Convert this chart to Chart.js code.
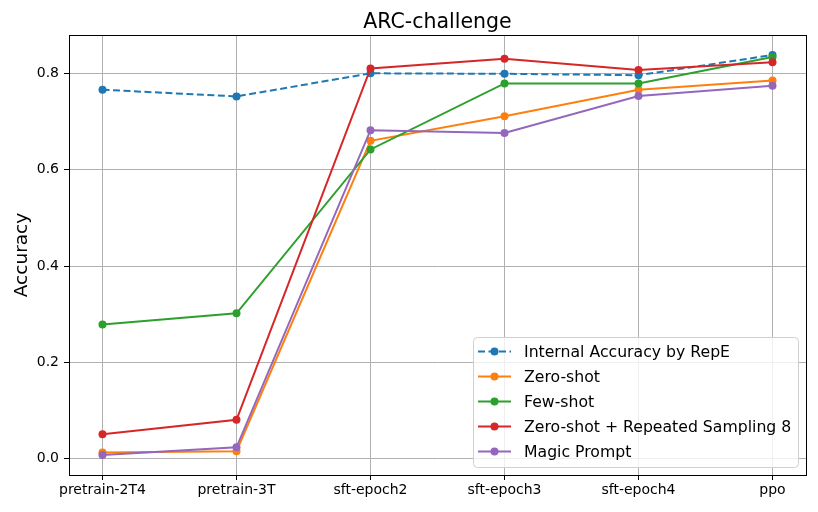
<!DOCTYPE html>
<html>
<head>
<meta charset="utf-8">
<script src="https://cdn.jsdelivr.net/npm/chart.js@4.4.1/dist/chart.umd.min.js"></script>
<style>
  html, body { margin: 0; padding: 0; background: #fff; }
  #wrap { width: 818px; height: 512px; }
</style>
</head>
<body>
<div id="wrap"><canvas id="arc"></canvas></div>
<script>
// ARC-challenge 정확도 차트
const stages = ['pretrain-2T4', 'pretrain-3T', 'sft-epoch2', 'sft-epoch3', 'sft-epoch4', 'ppo'];
const yTicks = [0.0, 0.2, 0.4, 0.6, 0.8];

const repeAcc = [0.766, 0.752, 0.800, 0.799, 0.796, 0.838];
const zeroShot = [0.013, 0.016, 0.660, 0.711, 0.766, 0.785];
const fewShot = [0.279, 0.302, 0.642, 0.779, 0.779, 0.834];
const repeated8 = [0.051, 0.081, 0.810, 0.830, 0.807, 0.823];
const magicPrompt = [0.008, 0.024, 0.682, 0.676, 0.753, 0.774];

const seriesNames = ['Internal Accuracy by RepE', 'Zero-shot', 'Few-shot', 'Zero-shot + Repeated Sampling 8', 'Magic Prompt'];
const seriesColors = ['#1f77b4', '#ff7f0e', '#2ca02c', '#d62728', '#9467bd'];
const seriesValues = [repeAcc, zeroShot, fewShot, repeated8, magicPrompt];

const FONT = "'DejaVu Sans', sans-serif";

const datasets = seriesValues.map((vals, i) => ({
    label: seriesNames[i],
    data: vals.map((v, k) => ({ x: k, y: v })),
    borderColor: seriesColors[i],
    backgroundColor: seriesColors[i],
    borderWidth: 2,
    borderDash: i === 0 ? [7, 3.5] : [],
    pointRadius: 4,
    pointBorderWidth: 0,
    pointHoverRadius: 4,
    tension: 0,
    order: 5 - i // 뒤 시리즈가 위에 그려지도록
}));

// 제목 (플롯 영역 가운데) + 축 테두리
const frameBox = {
    id: 'frameBox',
    afterDatasetsDraw(chart) {
        const a = chart.chartArea;
        const ctx = chart.ctx;
        ctx.save();
        ctx.strokeStyle = '#000';
        ctx.lineWidth = 1;
        ctx.strokeRect(Math.round(a.left) + 0.5, Math.round(a.top) + 0.5,
            Math.round(a.right - a.left), Math.round(a.bottom - a.top));
        ctx.fillStyle = '#000';
        ctx.font = '20.5px ' + FONT;
        ctx.textAlign = 'center';
        ctx.textBaseline = 'alphabetic';
        ctx.fillText('ARC-challenge', (a.left + a.right) / 2, 27.5);
        ctx.restore();
    }
};

// 범례를 차트 안 오른쪽 아래에 그림
const innerLegend = {
    id: 'innerLegend',
    afterDraw(chart) {
        const ctx = chart.ctx;
        const a = chart.chartArea;
        const rowH = 25;
        const boxW = 325, boxH = 130;
        const x0 = a.right - 8 - boxW;
        const y0 = a.bottom - 8 - boxH;
        ctx.save();
        ctx.fillStyle = 'rgba(255,255,255,0.8)';
        ctx.strokeStyle = '#d0d0d0';
        ctx.lineWidth = 1;
        ctx.beginPath();
        ctx.roundRect(x0 + 0.5, y0 + 0.5, boxW, boxH, 4);
        ctx.fill();
        ctx.stroke();
        ctx.font = '15.7px ' + FONT;
        ctx.textBaseline = 'middle';
        chart.data.datasets.forEach((ds, i) => {
            const cy = y0 + 14.5 + i * rowH;
            ctx.strokeStyle = ds.borderColor;
            ctx.lineWidth = 2;
            ctx.setLineDash(ds.borderDash);
            ctx.beginPath();
            ctx.moveTo(x0 + 5, cy);
            ctx.lineTo(x0 + 38, cy);
            ctx.stroke();
            ctx.setLineDash([]);
            ctx.fillStyle = ds.backgroundColor;
            ctx.beginPath();
            ctx.arc(x0 + 21.5, cy, 4, 0, Math.PI * 2);
            ctx.fill();
            ctx.fillStyle = '#000';
            ctx.fillText(ds.label, x0 + 51, cy + 1);
        });
        ctx.restore();
    }
};

new Chart(document.getElementById('arc').getContext('2d'), {
    type: 'line',
    data: { datasets: datasets },
    options: {
        responsive: true,
        maintainAspectRatio: false,
        animation: false,
        layout: { padding: { left: 0, right: 12, top: 35, bottom: 0 } },
        plugins: {
            legend: { display: false },
            tooltip: { enabled: false },
            title: { display: false }
        },
        scales: {
            x: {
                type: 'linear',
                min: -0.25,
                max: 5.25,
                afterBuildTicks: scale => { scale.ticks = stages.map((s, i) => ({ value: i })); },
                afterFit: scale => { scale.height = 37; },
                grid: { color: '#b0b0b0', lineWidth: 1, tickLength: 5, tickColor: '#000' },
                border: { display: false },
                ticks: {
                    color: '#000',
                    padding: 2,
                    maxRotation: 0,
                    autoSkip: false,
                    font: { family: FONT, size: 14 },
                    callback: v => stages[v]
                }
            },
            y: {
                min: -0.0335,
                max: 0.8795,
                afterBuildTicks: scale => { scale.ticks = yTicks.map(v => ({ value: v })); },
                afterFit: scale => { scale.width = 69; },
                grid: { color: '#b0b0b0', lineWidth: 1, tickLength: 5, tickColor: '#000' },
                border: { display: false },
                title: {
                    display: true,
                    text: 'Accuracy',
                    color: '#000',
                    font: { family: FONT, size: 18.5 },
                    padding: { top: 11, bottom: 2 }
                },
                ticks: {
                    color: '#000',
                    padding: 5,
                    font: { family: FONT, size: 14 },
                    callback: v => v.toFixed(1)
                }
            }
        }
    },
    plugins: [frameBox, innerLegend]
});
</script>
</body>
</html>
